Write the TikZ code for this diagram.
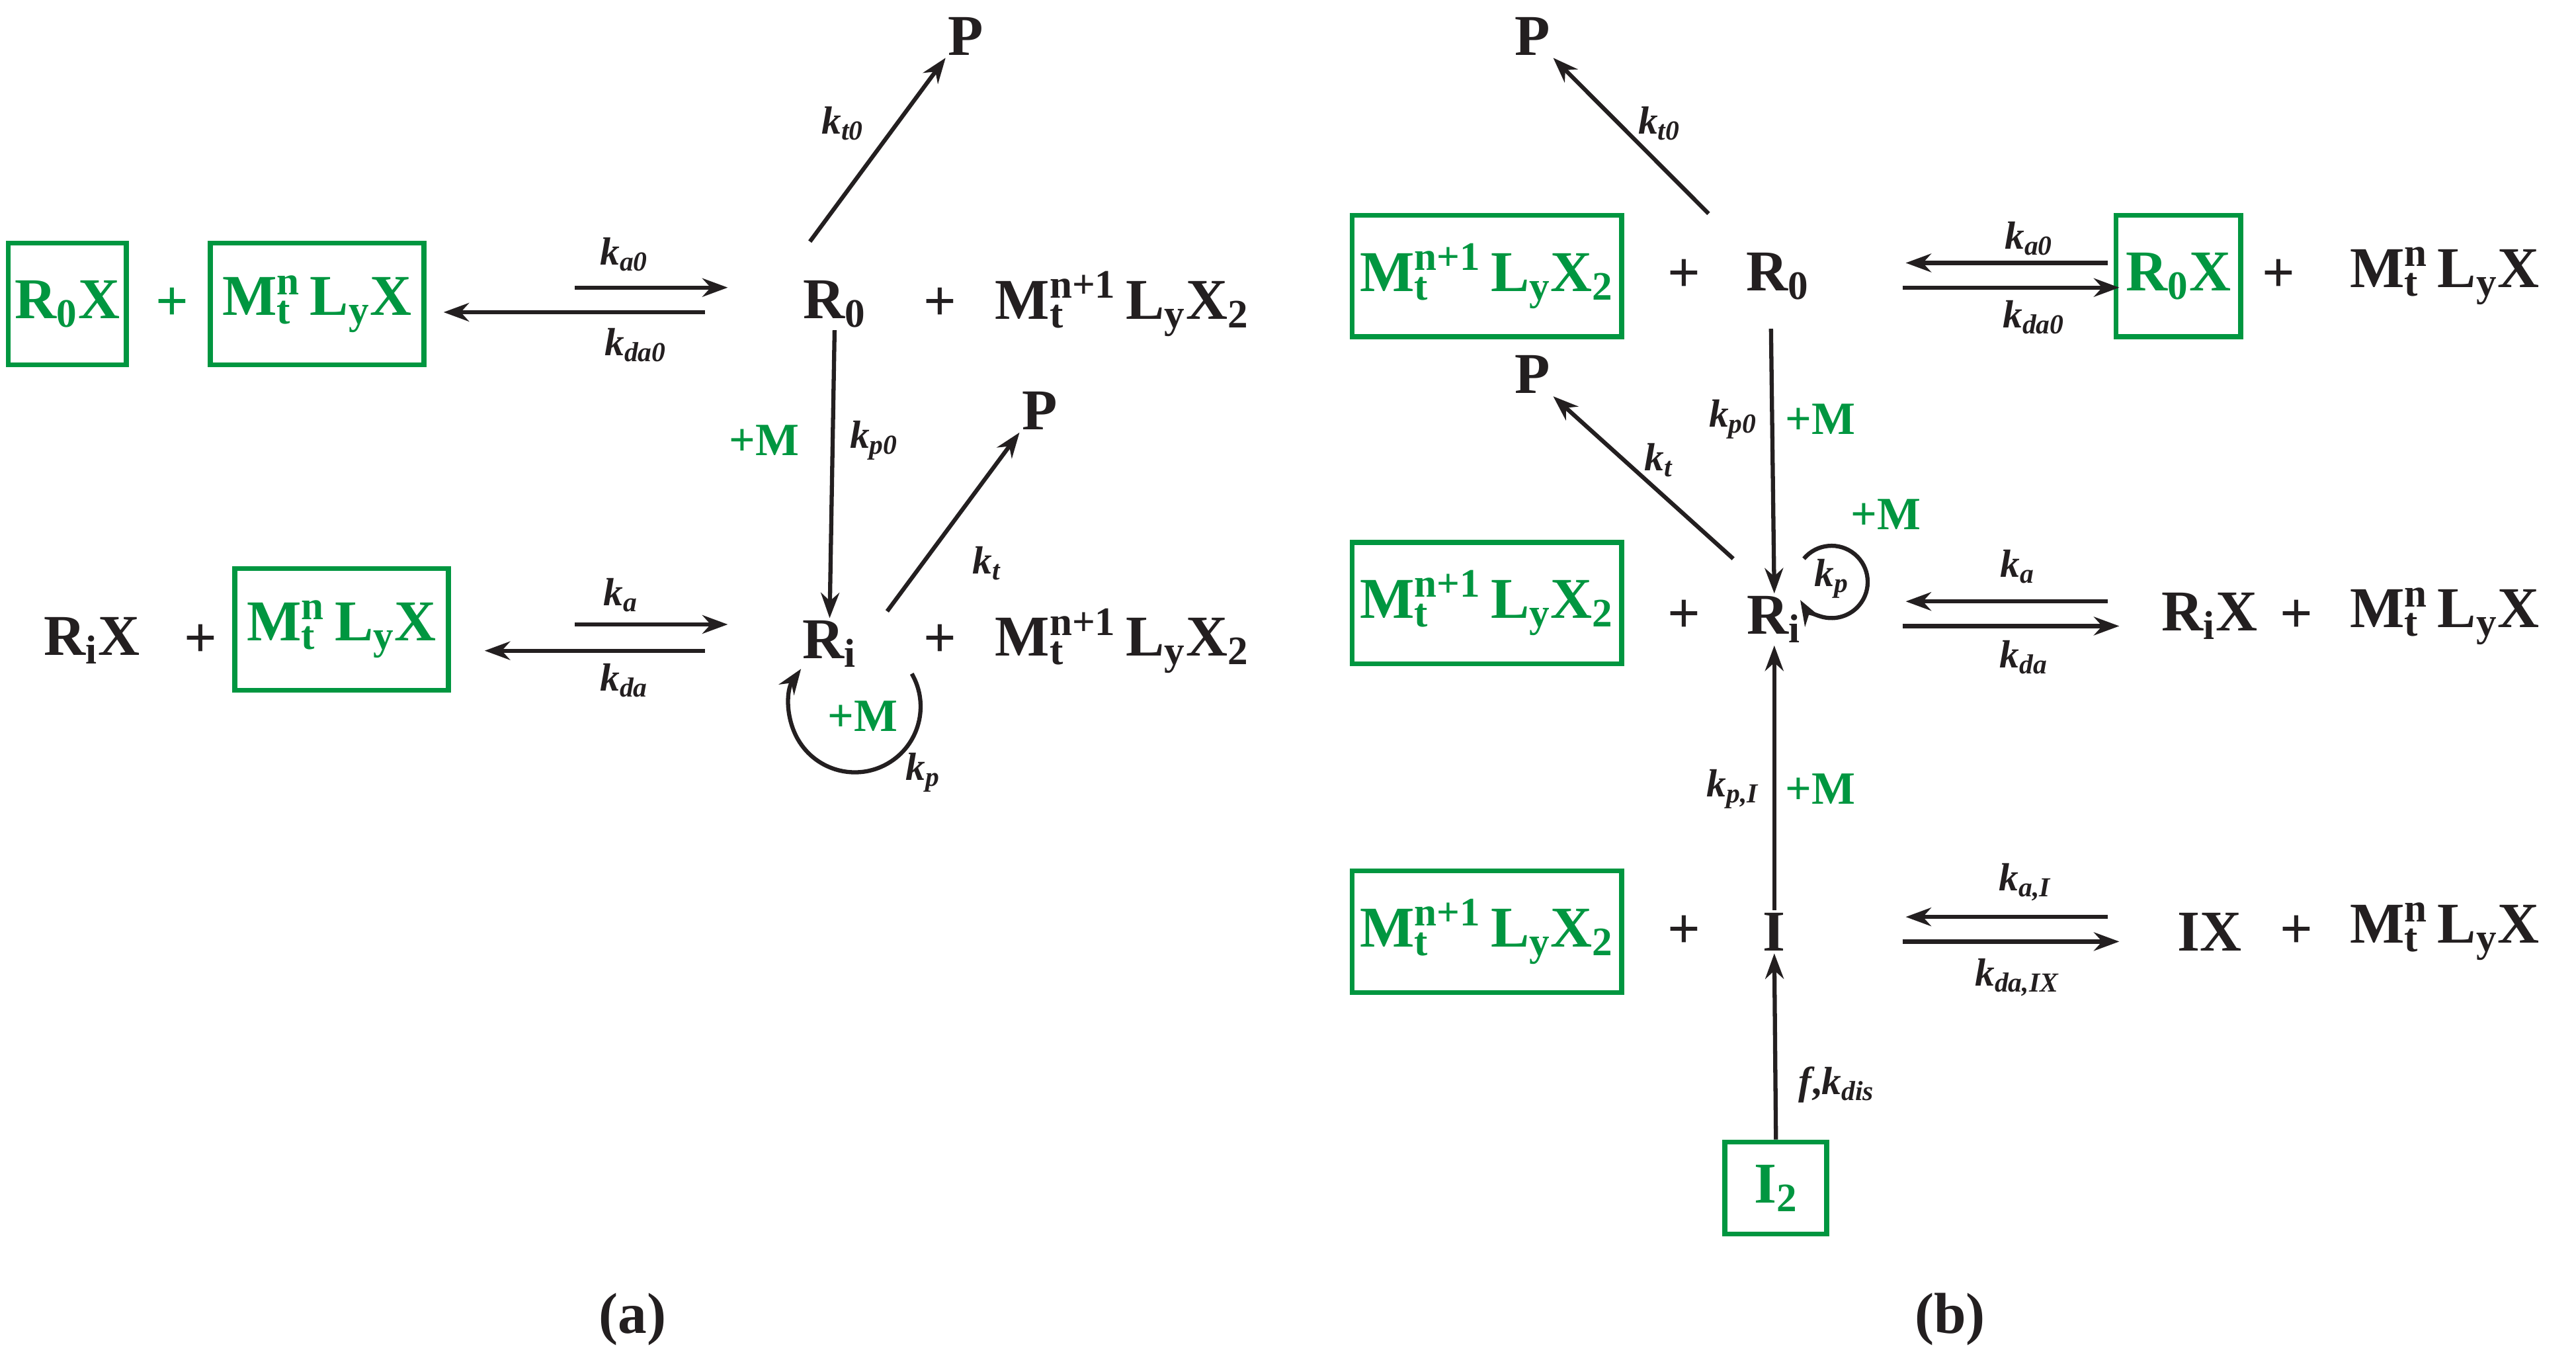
\documentclass[tikz,border=0pt]{standalone}
\usepackage{fontspec}
\setmainfont{Liberation Serif}
\usetikzlibrary{arrows.meta}
\definecolor{rgreen}{RGB}{0,150,64}
\definecolor{rdark}{RGB}{35,31,32}
\newcommand\supsub[2]{\rlap{\textsubscript{#1}}\textsuperscript{#2}}
\newcommand\kk[1]{\textit{k}\textsubscript{\textit{#1}}}
\newcommand\Mn{M\supsub{t}{n}\,L\textsubscript{y}X}
\newcommand\Mnn{M\supsub{t}{n+1}\,L\textsubscript{y}X\textsubscript{2}}
\tikzset{
  sp/.style={font=\fontsize{25}{30}\selectfont\bfseries, text=rdark, inner sep=1pt},
  gsp/.style={sp, text=rgreen},
  box/.style={gsp, draw=rgreen, line width=2.2pt, inner sep=2pt, minimum height=1.85cm},
  rate/.style={font=\fontsize{17}{20}\selectfont\bfseries, text=rdark, inner sep=1pt},
  arr/.style={-{Stealth[length=11pt,width=8pt]}, line width=1.8pt, draw=rdark},
  gm/.style={gsp, font=\fontsize{20}{24}\selectfont\bfseries},
}
\begin{document}
\begin{tikzpicture}[x=0.025cm, y=0.025cm]
\useasboundingbox (0,0) rectangle (1568,-830);

% ---- (a)
\node (r0x) [box, minimum width=1.8cm] at (41,-185) {R\textsubscript{0}X};
\node (pa1) [gsp] at (105,-185) {+};
\node (ma1) [box, minimum width=3.25cm] at (193,-185) {\Mn};
\node (r0a) [sp] at (508,-185) {R\textsubscript{0}};
\node (pa2) [sp] at (572,-185) {+};
\node (mna1) [sp] at (683,-185) {\Mnn};
\node (pa) [sp] at (588,-22) {P};
\node (pb) [sp] at (633,-250) {P};
\node (ria) [sp] at (505,-392) {R\textsubscript{i}};
\node (pa3) [sp] at (572,-390) {+};
\node (mna2) [sp] at (683,-390) {\Mnn};
\node (rix) [sp] at (56,-390) {R\textsubscript{i}X};
\node (pa4) [sp] at (122,-390) {+};
\node (ma2) [box, minimum width=3.25cm] at (208,-383) {\Mn};

\coordinate (a1s) at (350,-175); \coordinate (a1e) at (443,-175);
\coordinate (a2s) at (429,-190); \coordinate (a2e) at (270,-190);
\coordinate (a3s) at (350,-380); \coordinate (a3e) at (443,-380);
\coordinate (a4s) at (429,-396); \coordinate (a4e) at (295,-396);
\draw[arr] (a1s) -- (a1e);
\draw[arr] (a2s) -- (a2e);
\draw[arr] (a3s) -- (a3e);
\draw[arr] (a4s) -- (a4e);
\node (ka0) [rate] at (380,-155) {\kk{a0}};
\node (kda0) [rate] at (387,-210) {\kk{da0}};
\node (ka) [rate] at (378,-362) {\kk{a}};
\node (kda) [rate] at (380,-414) {\kk{da}};

\coordinate (t0s) at (493,-147);
\draw[arr] (t0s) -- (pa.south west);
\node (kt0a) [rate] at (513,-75) {\kk{t0}};
\draw[arr] (r0a.south) -- (ria.north);
\node (ma) [gm] at (465,-268) {+M};
\node (kp0a) [rate] at (532,-268) {\kk{p0}};
\coordinate (tas) at (540,-372);
\draw[arr] (tas) -- (pb.south west);
\node (kta) [rate] at (601,-343) {\kk{t}};
\coordinate (loopa) at (555,-410);
\draw[arr] (loopa) arc[start angle=30, end angle=-215, radius=40];
\node (mloop) [gm] at (525,-436) {+M};
\node (kpa) [rate] at (562,-470) {\kk{p}};
\node (laba) [sp] at (385,-803) {(\textbf{a})};

% ---- (b)
\node (pc) [sp] at (933,-22) {P};
\node (mb1) [box, minimum width=4.1cm] at (905,-168) {\Mnn};
\node (pb1) [sp] at (1025,-168) {+};
\node (r0b) [sp] at (1082,-168) {R\textsubscript{0}};
\node (r0xb) [box, minimum width=1.9cm] at (1326,-168) {R\textsubscript{0}X};
\node (pb2) [sp] at (1387,-168) {+};
\node (mb2) [sp] at (1488,-168) {\Mn};
\node (pd) [sp] at (933,-228) {P};
\node (mb3) [box, minimum width=4.1cm] at (905,-367) {\Mnn};
\node (pb3) [sp] at (1025,-375) {+};
\node (rib) [sp] at (1080,-377) {R\textsubscript{i}};
\node (rixb) [sp] at (1345,-375) {R\textsubscript{i}X};
\node (pb4) [sp] at (1398,-375) {+};
\node (mb4) [sp] at (1488,-375) {\Mn};
\node (mb5) [box, minimum width=4.1cm] at (905,-567) {\Mnn};
\node (pb5) [sp] at (1025,-567) {+};
\node (ib) [sp] at (1080,-567) {I};
\node (ixb) [sp] at (1345,-567) {IX};
\node (pb6) [sp] at (1398,-567) {+};
\node (mb6) [sp] at (1488,-567) {\Mn};
\node (i2) [box, minimum height=1.4cm, minimum width=1.55cm] at (1081,-723) {I\textsubscript{2}};

\coordinate (t0b) at (1040,-130);
\draw[arr] (t0b) -- (pc.south east);
\node (kt0b) [rate] at (1010,-75) {\kk{t0}};
\coordinate (p0b) at (1078,-200);
\draw[arr] (p0b) -- (rib.north);
\node (kp0b) [rate] at (1055,-255) {\kk{p0}};
\node (mp0b) [gm] at (1108,-255) {+M};
\coordinate (tb) at (1055,-340);
\draw[arr] (tb) -- (pd.south east);
\node (ktb) [rate] at (1010,-280) {\kk{t}};
\coordinate (loopb) at (1098,-340);
\draw[arr] (loopb) arc[start angle=140, end angle=-150, radius=22];
\node (kpb) [rate] at (1115,-352) {\kk{p}};
\node (mpb) [gm] at (1148,-313) {+M};
\draw[arr] (ib.north) -- (rib.south);
\node (kpib) [rate] at (1055,-480) {\kk{p,I}};
\node (mpib) [gm] at (1108,-480) {+M};
\draw[arr] (i2.north) -- (ib.south);
\node (kdis) [rate] at (1118,-660) {\textit{f},\kk{dis}};

\coordinate (b1s) at (1283,-160); \coordinate (b1e) at (1160,-160);
\coordinate (b2s) at (1158,-175); \coordinate (b2e) at (1290,-175);
\coordinate (b3s) at (1283,-366); \coordinate (b3e) at (1160,-366);
\coordinate (b4s) at (1158,-381); \coordinate (b4e) at (1290,-381);
\coordinate (b5s) at (1283,-558); \coordinate (b5e) at (1160,-558);
\coordinate (b6s) at (1158,-573); \coordinate (b6e) at (1290,-573);
\draw[arr] (b1s) -- (b1e);
\draw[arr] (b2s) -- (b2e);
\draw[arr] (b3s) -- (b3e);
\draw[arr] (b4s) -- (b4e);
\draw[arr] (b5s) -- (b5e);
\draw[arr] (b6s) -- (b6e);
\node (ka0b) [rate] at (1235,-145) {\kk{a0}};
\node (kda0b) [rate] at (1238,-193) {\kk{da0}};
\node (kab) [rate] at (1228,-345) {\kk{a}};
\node (kdab) [rate] at (1232,-400) {\kk{da}};
\node (kaib) [rate] at (1233,-537) {\kk{a,I}};
\node (kdaib) [rate] at (1228,-595) {\kk{da,IX}};
\node (labb) [sp] at (1187,-803) {(\textbf{b})};
\end{tikzpicture}
\end{document}
